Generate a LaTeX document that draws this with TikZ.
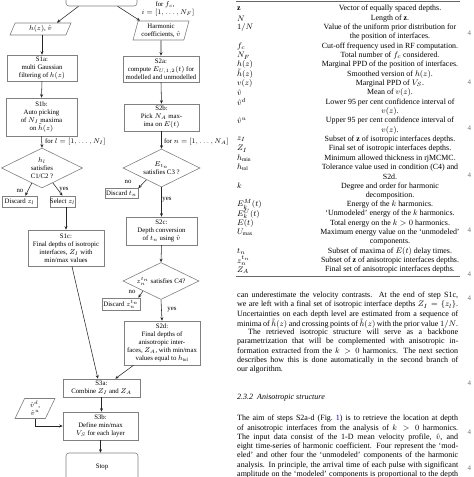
\documentclass[tikz,border=0pt]{standalone}
\usepackage{fontspec}
\setmainfont{Liberation Serif}
\usetikzlibrary{shapes.geometric,arrows.meta,calc}
\newcommand{\fcfont}{\fontsize{6.8}{8}\selectfont}
\newcommand{\tbfont}{\fontsize{7.9}{9.3}\selectfont}
\newcommand{\bdfont}{\fontsize{8}{9.3}\selectfont}
\newcommand{\tsym}[2]{\node[symtext] (ts#1) at (237,{9+9.32*#1}) {#2};}
\newcommand{\tdesc}[2]{\node[desctext] (td#1) at (390,{9+9.32*#1}) {#2};}
\newcommand{\bline}[3]{\node[bodytext] (bl#1) at (237,#2) {\makebox[221pt][s]{#3}};}
\begin{document}
\begin{tikzpicture}[x=1pt,y=-1pt,
 every node/.style={inner sep=0pt},
 fctext/.style={font=\fcfont, align=center},
 box/.style={fctext, draw=black!50, line width=0.6pt},
 rbox/.style={box, rounded corners=3pt},
 para/.style={fctext, draw=black!50, line width=0.6pt, trapezium, trapezium left angle=72, trapezium right angle=108, trapezium stretches=true},
 dia/.style={fctext, draw=black!50, line width=0.6pt, diamond, aspect=2},
 arr/.style={draw=black!85, line width=0.55pt, -{Stealth[length=3.5pt,width=3pt]}},
 lab/.style={font=\fcfont},
 symtext/.style={font=\tbfont, anchor=west},
 desctext/.style={font=\tbfont},
 bodytext/.style={font=\bdfont, anchor=west},
 lnmark/.style={font=\fontsize{7}{8}\selectfont, text=black!55, anchor=west},
 rule/.style={draw=black!60, line width=0.6pt}
]
\clip (0,0) rectangle (474,477);
\useasboundingbox (0,0) rectangle (474,477);

% ---------- flowchart ----------
\node[rbox, minimum width=71pt, minimum height=18pt] (start) at (101.5,-3) {};
\node[para, minimum width=61pt, minimum height=12pt] (paraL) at (40.5,29) {$h(z)$, $\hat{v}$};
\node[para, minimum width=56pt, minimum height=19pt] (paraR) at (161,30.5) {Harmonic\\coefficients, $\hat{v}$};
\node[box, minimum width=70pt, minimum height=26pt] (S1a) at (42,68) {S1a:\\multi Gaussian\\filtering of $h(z)$};
\node[box, minimum width=76pt, minimum height=26pt] (S2a) at (161,69) {S2a:\\compute $E_{U,1,2}(t)$ for\\modelled and unmodelled};
\node[box, minimum width=71pt, minimum height=38pt] (S1b) at (41.5,117) {S1b:\\Auto picking\\of $N_I$ maxima\\on $\tilde{h}(z)$};
\node[box, minimum width=75pt, minimum height=27pt] (S2b) at (161.5,117.5) {S2b:\\Pick $N_A$ max-\\ima on $E(t)$};
\node[dia, minimum width=81pt, minimum height=40pt] (D1) at (42,168) {$h_l$\\satisfies\\C1/C2 ?};
\node[dia, minimum width=77pt, minimum height=38pt] (D2) at (161.5,168) {$E_{t_n}$\\satisfies C3 ?};
\node[box, minimum width=35pt, minimum height=11pt] (disc1) at (19.5,201.5) {Discard $z_l$};
\node[box, minimum width=25pt, minimum height=11pt] (sel) at (62.5,201.5) {Select $z_l$};
\node[box, minimum width=33pt, minimum height=10pt] (disc2) at (121.5,193.5) {Discard $t_n$};
\node[box, minimum width=76pt, minimum height=36pt] (S1c) at (66,248) {S1c:\\Final depths of isotropic\\interfaces, $Z_I$ with\\min/max values};
\node[box, minimum width=71pt, minimum height=28pt] (S2c) at (161.5,231) {S2c:\\Depth conversion\\of $t_n$ using $\hat{v}$};
\node[dia, minimum width=76pt, minimum height=37pt] (D3) at (161,281) {$z_n^{t_n}$ satisfies C4?};
\node[box, minimum width=38pt, minimum height=12pt] (disc3) at (121,304) {Discard $z_n^{t_n}$};
\node[box, minimum width=76pt, minimum height=44pt] (S2d) at (162,343) {S2d:\\Final depths of\\anisotropic inter-\\faces, $Z_A$, with min/max\\values equal to $h_{\mathrm{tol}}$};
\node[box, minimum width=77pt, minimum height=18pt] (S3a) at (101.5,388) {S3a:\\Combine $Z_I$ and $Z_A$};
\node[box, minimum width=75pt, minimum height=28pt] (S3b) at (100.5,426) {S3b:\\Define min/max\\$V_S$ for each layer};
\node[para, minimum width=40pt, minimum height=20pt] (paraV) at (35,408.5) {$\hat{v}^{d}$,\\$\hat{v}^{u}$};
\node[rbox, minimum width=72pt, minimum height=28pt] (stop) at (102,467) {Stop};

\draw[arr] (start.202) -- (paraL.21);
\draw[arr] (start.330) -- (paraR.155);
\draw[arr] (paraL.south -| S1a.north) -- (S1a.north);
\draw[arr] (S1a.south) -- (S1b.north);
\draw[arr] (S1b.south) -- (D1.north);
\draw[arr] (D1.236) -- (disc1.45);
\draw[arr] (D1.306) -- (sel.north);
\draw[arr] (S1c.north |- sel.south) -- (S1c.north);
\draw[arr] (paraR.south) -- (S2a.north);
\draw[arr] (S2a.south) -- (S2b.north);
\draw[arr] (S2b.south) -- (D2.north);
\draw[arr] (D2.218) -- (disc2.north east);
\draw[arr] (D2.south) -- (S2c.north);
\draw[arr] (S2c.south) -- (D3.north);
\draw[arr] (D3.209) -- (disc3.20);
\draw[arr] (D3.south) -- (S2d.north);
\draw[arr] (S1c.-72) -- (S3a.111);
\draw[arr] (S2d.218) -- (S3a.34);
\draw[arr] (S3a.south) -- (S3a.south |- S3b.north);
\draw[arr] (paraV.south) |- (S3b.west);
\draw[arr] (S3b.south) -- (S3b.south |- stop.north);

\node[lab] (lfc1) at (165,5) {for $f_c$,};
\node[lab] (lfc2) at (168,13) {$i=[1,\ldots,N_F]$};
\node[lab, anchor=west] (lfl) at (45,142) {for $l=[1,\ldots,N_I]$};
\node[lab, anchor=west] (lfn) at (164,142) {for $n=[1,\ldots,N_A]$};
\node[lab] (no1) at (20,191) {no};
\node[lab] (yes1) at (64,190) {yes};
\node[lab] (no2) at (128,182) {no};
\node[lab] (yes2) at (167,200) {yes};
\node[lab] (no3) at (132,292) {no};
\node[lab] (yes3) at (172,310) {yes};

% ---------- table ----------
\coordinate (r1a) at (236,1.5); \coordinate (r1b) at (460,1.5);
\draw[rule] (r1a) -- (r1b);
\coordinate (r2a) at (236,276.5); \coordinate (r2b) at (460,276.5);
\draw[rule] (r2a) -- (r2b);

\tsym{0}{$\mathbf{z}$}        \tdesc{0}{Vector of equally spaced depths.}
\tsym{1}{$N$}                 \tdesc{1}{Length of $\mathbf{z}$.}
\tsym{2}{$1/N$}               \tdesc{2}{Value of the uniform prior distribution for}
                              \tdesc{3}{the position of interfaces.}
\tsym{4}{$f_c$}               \tdesc{4}{Cut-off frequency used in RF computation.}
\tsym{5}{$N_F$}               \tdesc{5}{Total number of $f_c$ considered.}
\tsym{6}{$h(z)$}              \tdesc{6}{Marginal PPD of the position of interfaces.}
\tsym{7}{$\tilde{h}(z)$}      \tdesc{7}{Smoothed version of $h(z)$.}
\tsym{8}{$v(z)$}              \tdesc{8}{Marginal PPD of $V_S$.}
\tsym{9}{$\hat{v}$}           \tdesc{9}{Mean of $v(z)$.}
\tsym{10}{$\hat{v}^d$}        \tdesc{10}{Lower 95 per cent confidence interval of}
                              \tdesc{11}{$v(z)$.}
\tsym{12}{$\hat{v}^u$}        \tdesc{12}{Upper 95 per cent confidence interval of}
                              \tdesc{13}{$v(z)$.}
\tsym{14}{$z_I$}              \tdesc{14}{Subset of $\mathbf{z}$ of isotropic interfaces depths.}
\tsym{15}{$Z_I$}              \tdesc{15}{Final set of isotropic interfaces depths.}
\tsym{16}{$h_{\mathrm{min}}$} \tdesc{16}{Minimum allowed thickness in rjMCMC.}
\tsym{17}{$h_{\mathrm{tol}}$} \tdesc{17}{Tolerance value used in condition (C4) and}
                              \tdesc{18}{S2d.}
\tsym{19}{$k$}                \tdesc{19}{Degree and order for harmonic}
                              \tdesc{20}{decomposition.}
\tsym{21}{$E_k^M(t)$}         \tdesc{21}{Energy of the $k$ harmonics.}
\tsym{22}{$E_k^U(t)$}         \tdesc{22}{`Unmodeled' energy of the $k$ harmonics.}
\tsym{23}{$E(t)$}             \tdesc{23}{Total energy on the $k>0$ harmonics.}
\tsym{24}{$U_{\mathrm{max}}$} \tdesc{24}{Maximum energy value on the `unmodeled'}
                              \tdesc{25}{components.}
\tsym{26}{$t_n$}              \tdesc{26}{Subset of maxima of $E(t)$ delay times.}
\tsym{27}{$z_n^{t_n}$}        \tdesc{27}{Subset of $\mathbf{z}$ of anisotropic interfaces depths.}
\tsym{28}{$Z_A$}              \tdesc{28}{Final set of anisotropic interfaces depths.}

% ---------- body text ----------
\bline{0}{295.7}{can underestimate the velocity contrasts. At the end of step S1c,}
\bline{1}{304.9}{we are left with a final set of isotropic interface depths $Z_I=\{z_l\}$.}
\bline{2}{314.2}{Uncertainties on each depth level are estimated from a sequence of}
\bline{3}{323.4}{minima of $\tilde{h}(z)$ and crossing points of $\tilde{h}(z)$ with the prior value $1/N$.}
\node[bodytext] (bl4) at (248,332.7) {\makebox[210pt][s]{The retrieved isotropic structure will serve as a backbone}};
\bline{5}{341.9}{parametrization that will be complemented with anisotropic in-}
\bline{6}{351.2}{formation extracted from the $k>0$ harmonics. The next section}
\bline{7}{360.4}{describes how this is done automatically in the second branch of}
\node[bodytext] (bl8) at (237,369.7) {our algorithm.};
\node[bodytext] (head) at (237,398) {\textit{2.3.2}\enspace\textit{Anisotropic structure}};
\bline{9}{419}{The aim of steps S2a-d (Fig.~\textcolor{blue!70!black}{1}) is to retrieve the location at depth}
\bline{10}{428.3}{of anisotropic interfaces from the analysis of $k>0$ harmonics.}
\bline{11}{437.5}{The input data consist of the 1-D mean velocity profile, $\hat{v}$, and}
\bline{12}{446.8}{eight time-series of harmonic coefficient. Four represent the `mod-}
\bline{13}{456}{eled' and other four the `unmodeled' components of the harmonic}
\bline{14}{465.3}{analysis. In principle, the arrival time of each pulse with significant}
\bline{15}{474.5}{amplitude on the `modeled' components is proportional to the depth}

% ---------- margin marks ----------
\node[lnmark] (m1) at (467.5,33) {4};
\node[lnmark] (m2) at (467.5,82) {4};
\node[lnmark] (m3) at (467.5,128) {4};
\node[lnmark] (m4) at (467.5,175) {4};
\node[lnmark] (m5) at (467.5,230) {4};
\node[lnmark] (m6) at (467.5,274) {4};
\node[lnmark] (m7) at (467.5,298) {4};
\node[lnmark] (m8) at (467.5,383) {4};
\node[lnmark] (m9) at (467.5,432) {4};
\node[lnmark] (m10) at (467.5,468) {4};
\end{tikzpicture}
\end{document}
